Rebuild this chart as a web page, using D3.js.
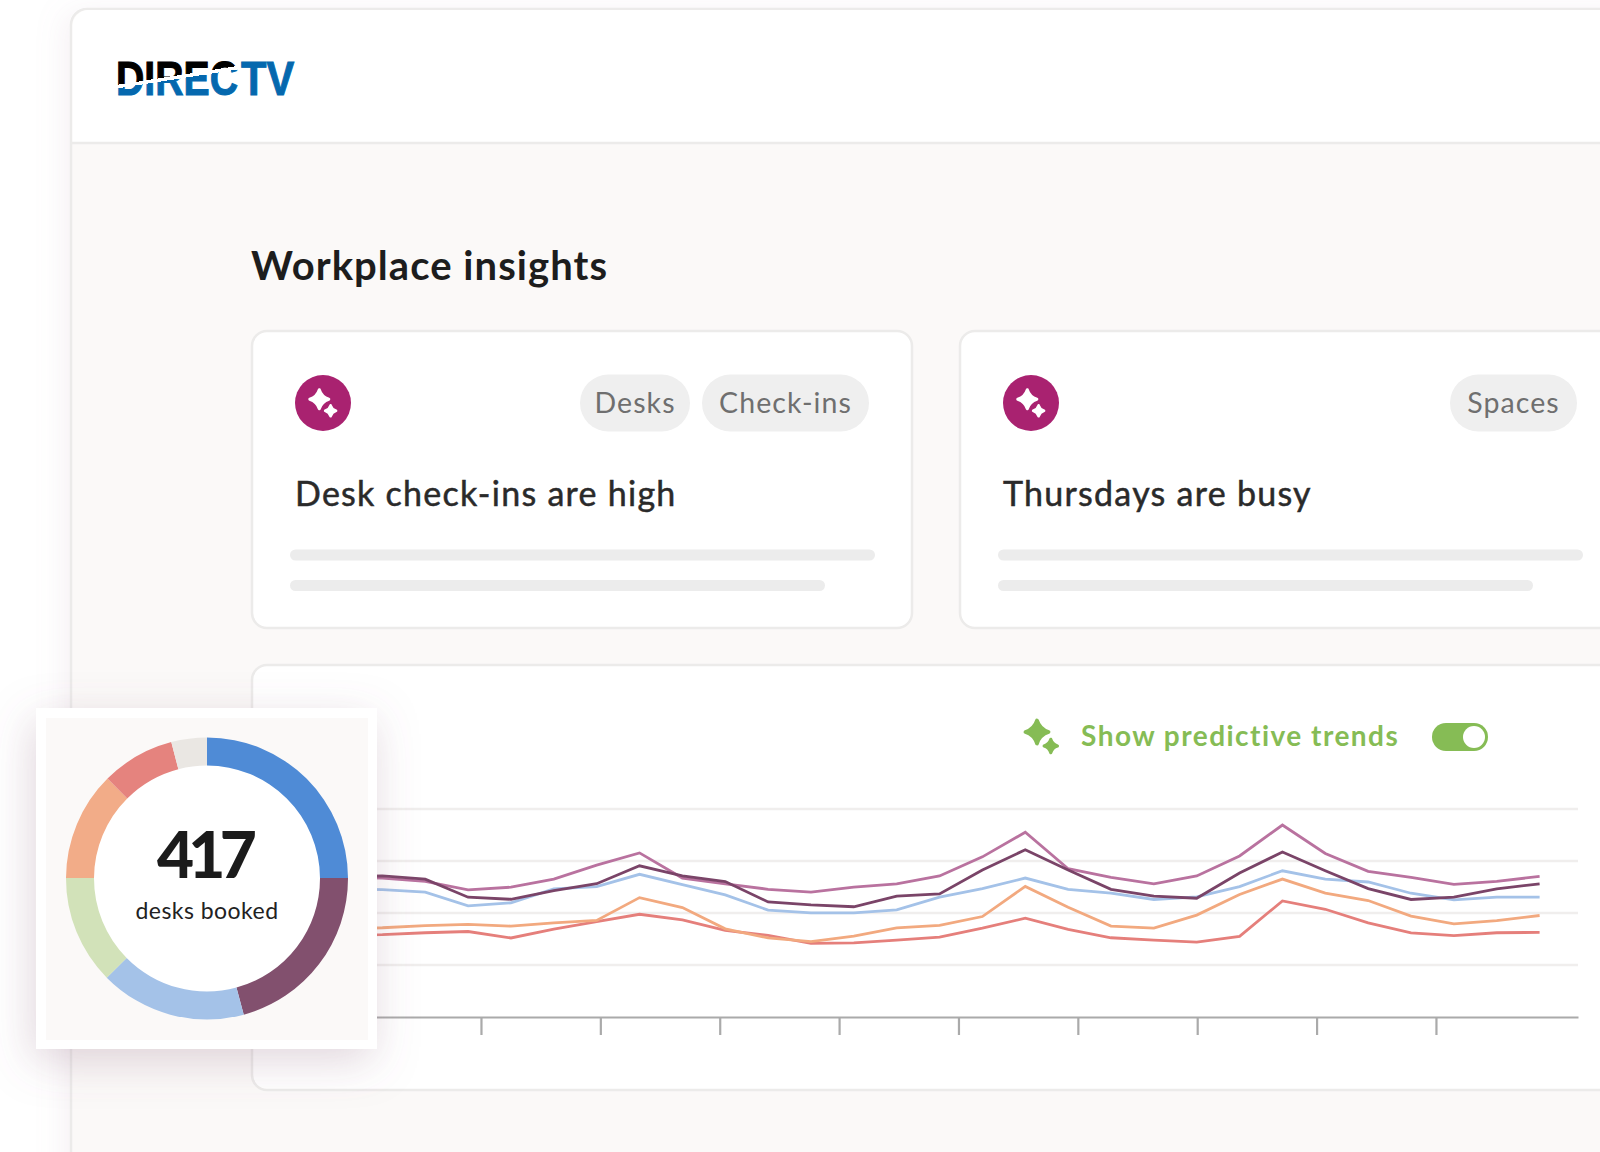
<!DOCTYPE html>
<html>
<head>
<meta charset="utf-8">
<script src="https://cdn.jsdelivr.net/npm/d3@7"></script>
<style>
  html, body { margin: 0; padding: 0; background: #fff; overflow: hidden; }
  text { font-family: Lato, "Noto Sans", sans-serif; }
</style>
</head>
<body>
<svg id="chart" width="1600" height="1152"></svg>
<script>
// first point of each series sits behind the donut card
const dayIndex = d3.range(29)
const mauveValues = [67.1, 66.8, 65.2, 61.1, 62.4, 66.3, 73.0, 78.9, 66.8, 64.0, 61.4, 60.0, 62.4, 64.0, 67.8, 77.0, 88.8, 71.3, 67.1, 64.0, 67.8, 77.4, 92.3, 78.6, 70.0, 67.1, 63.8, 65.2, 67.6]
const plumValues = [67.5, 67.8, 66.3, 57.6, 56.6, 60.8, 64.1, 72.7, 67.8, 65.1, 55.3, 53.9, 53.0, 58.1, 59.2, 70.7, 80.4, 70.7, 61.4, 58.1, 57.1, 69.2, 79.3, 70.3, 61.7, 56.5, 57.6, 61.6, 64.0]
const blueValues = [61.6, 61.2, 60.0, 53.4, 54.9, 61.6, 62.7, 68.6, 63.6, 58.7, 51.4, 50.1, 50.1, 51.5, 57.6, 61.7, 66.8, 61.4, 59.6, 56.5, 57.7, 62.7, 70.3, 66.3, 64.9, 59.5, 56.3, 57.6, 57.6]
const orangeValues = [42.4, 42.9, 43.9, 44.5, 43.7, 45.3, 46.4, 57.4, 52.6, 42.4, 38.0, 36.2, 38.9, 42.9, 44.0, 48.3, 62.8, 52.8, 43.7, 42.7, 49.0, 58.9, 66.3, 59.6, 56.0, 48.5, 44.8, 46.3, 48.8]
const redValues = [39.2, 39.6, 40.5, 41.1, 38.0, 42.3, 45.8, 49.4, 46.7, 41.6, 39.2, 35.4, 35.6, 37.0, 38.4, 42.7, 47.5, 42.1, 38.1, 37.0, 36.0, 38.8, 55.8, 51.8, 45.3, 40.4, 39.1, 40.5, 40.7]

const gridValues = [25, 50, 75, 100]
const axisTicks = [1, 2, 3, 4, 5, 6, 7, 8, 9]

const donutCategories = ["a", "b", "c", "d", "e", "f", "g"]
const donutValues = [104, 87, 70, 52, 52, 35, 17]
const donutColors = ["#4f8bd6", "#82506e", "#a4c2e8", "#d2e2b9", "#f2ac88", "#e5837e", "#eae7e3"]

const svg = d3.select("#chart")
const defs = svg.append("defs")

function shadow(id, dx, dy, blur, color, opacity) {
  defs.append("filter").attr("id", id)
    .attr("x", "-30%").attr("y", "-30%").attr("width", "160%").attr("height", "160%")
    .append("feDropShadow")
    .attr("dx", dx).attr("dy", dy).attr("stdDeviation", blur)
    .attr("flood-color", color).attr("flood-opacity", opacity)
}
shadow("outerShadow", -6, 4, 14, "#b894ac", 0.13)
shadow("floatShadow", -4, 12, 22, "#8a5f7d", 0.26)

// 4 point star, the "insight" icon
function sparkle(cx, cy, r) {
  const k = r * 0.24
  return `M${cx},${cy - r}Q${cx + k},${cy - k} ${cx + r},${cy}Q${cx + k},${cy + k} ${cx},${cy + r}Q${cx - k},${cy + k} ${cx - r},${cy}Q${cx - k},${cy - k} ${cx},${cy - r}Z`
}
function sparklePair(x, y, color, scale) {
  svg.append("path").attr("d", sparkle(x, y, 9.5 * scale))
    .attr("fill", color).attr("stroke", color).attr("stroke-width", 3 * scale).attr("stroke-linejoin", "round")
  svg.append("path").attr("d", sparkle(x + 11.3 * scale, y + 11.5 * scale, 5.5 * scale))
    .attr("fill", color).attr("stroke", color).attr("stroke-width", 2.5 * scale).attr("stroke-linejoin", "round")
}

// app frame
svg.append("rect").attr("x", 71).attr("y", 9).attr("width", 1600).attr("height", 1300).attr("rx", 16)
  .attr("fill", "#fbf9f8").attr("stroke", "#ecebea").attr("stroke-width", 2.5)
  .attr("filter", "url(#outerShadow)")
svg.append("path").attr("d", "M72.5,143V26a16,16 0 0 1 16,-16H1620V143Z").attr("fill", "#fff")
svg.append("line").attr("x1", 72).attr("x2", 1600).attr("y1", 143).attr("y2", 143)
  .attr("stroke", "#ecebea").attr("stroke-width", 2.5)

// logo, hard stop gradient over the first word makes the swoosh
const logoFill = defs.append("linearGradient").attr("id", "logoFill")
  .attr("gradientUnits", "userSpaceOnUse")
  .attr("x1", 0).attr("y1", -15).attr("x2", 1.88).attr("y2", 0)
logoFill.selectAll("stop")
  .data([[0, "#000"], [0.33, "#000"], [0.33, "#fff"], [0.56, "#fff"], [0.56, "#0568ae"], [1, "#0568ae"]])
  .join("stop").attr("offset", d => d[0]).attr("stop-color", d => d[1])
function logoWord(word, x, scaleX, fill) {
  svg.append("text").attr("transform", `translate(${x},95) scale(${scaleX},1)`)
    .attr("font-size", 49).attr("font-weight", 700)
    .attr("fill", fill).attr("stroke", fill).attr("stroke-width", 1)
    .style("font-family", "'Liberation Sans', sans-serif")
    .text(word)
}
logoWord("DIREC", 116, 0.8, "url(#logoFill)")
logoWord("TV", 241, 0.85, "#0568ae")

svg.append("text").attr("x", 251).attr("y", 280).attr("font-size", 40).attr("font-weight", 700)
  .attr("fill", "#1d1d1d").attr("letter-spacing", 1.05).text("Workplace insights")

// insight cards
function insightCard(x, width, title, pills) {
  svg.append("rect").attr("x", x).attr("y", 331).attr("width", width).attr("height", 297).attr("rx", 15)
    .attr("fill", "#fff").attr("stroke", "#ecebea").attr("stroke-width", 2.5)
  svg.append("circle").attr("cx", x + 71).attr("cy", 403).attr("r", 28).attr("fill", "#a92270")
  sparklePair(x + 67.3, 399.3, "#fff", 1)
  pills.forEach(p => {
    svg.append("rect").attr("x", p.x).attr("y", 374.5).attr("width", p.w).attr("height", 57).attr("rx", 28.5)
      .attr("fill", "#efefef")
    svg.append("text").attr("x", p.x + p.w / 2).attr("y", 413).attr("text-anchor", "middle")
      .attr("font-size", 28.5).attr("fill", "#6f6f6f").attr("letter-spacing", 1.1).text(p.label)
  })
  svg.append("text").attr("x", x + 43).attr("y", 506).attr("font-size", 34)
    .attr("fill", "#2a2a2a").attr("stroke", "#2a2a2a").attr("stroke-width", 0.5)
    .attr("letter-spacing", 1.27).text(title)
  svg.append("rect").attr("x", x + 38).attr("y", 549.5).attr("width", 585).attr("height", 11).attr("rx", 5.5).attr("fill", "#ececec")
  svg.append("rect").attr("x", x + 38).attr("y", 580).attr("width", 535).attr("height", 11).attr("rx", 5.5).attr("fill", "#ececec")
}
insightCard(252, 660, "Desk check-ins are high", [
  { x: 580, w: 110, label: "Desks" },
  { x: 702, w: 167, label: "Check-ins" }
])
insightCard(960, 800, "Thursdays are busy", [
  { x: 1450, w: 127, label: "Spaces" }
])

// line chart card
svg.append("rect").attr("x", 252).attr("y", 665).attr("width", 1500).attr("height", 425).attr("rx", 15)
  .attr("fill", "#fff").attr("stroke", "#ecebea").attr("stroke-width", 2.5)

sparklePair(1037, 732, "#86bc55", 1.22)
svg.append("text").attr("x", 1081).attr("y", 746).attr("font-size", 28).attr("font-weight", 700)
  .attr("fill", "#86bc55").attr("letter-spacing", 1.47).text("Show predictive trends")
svg.append("rect").attr("x", 1432).attr("y", 723).attr("width", 56).attr("height", 28).attr("rx", 14).attr("fill", "#86bc55")
svg.append("circle").attr("cx", 1474).attr("cy", 737).attr("r", 11).attr("fill", "#fff")

const x = d3.scaleLinear().domain([0, 28]).range([339.5, 1539.6])
const y = d3.scaleLinear().domain([0, 100]).range([1017, 809])
const xTicks = d3.scaleLinear().domain([0, 10.19]).range([361.6, 1578])

svg.append("g").selectAll("line").data(gridValues).join("line")
  .attr("x1", 360).attr("x2", 1578)
  .attr("y1", d => y(d)).attr("y2", d => y(d))
  .attr("stroke", "#f0eeed").attr("stroke-width", 2.4)

const xAxis = svg.append("g").attr("transform", `translate(0,${y(0)})`)
  .call(d3.axisBottom(xTicks).tickValues(axisTicks).tickFormat("").tickSize(18).tickSizeOuter(0))
xAxis.selectAll("path, line").attr("stroke", "#aaa").attr("stroke-width", 2.2)

const line = d3.line().x((d, i) => x(dayIndex[i])).y(d => y(d))
const chartSeries = [
  { values: blueValues, color: "#a4c2e8" },
  { values: mauveValues, color: "#b9729f" },
  { values: plumValues, color: "#7a4468" },
  { values: redValues, color: "#e57f7b" },
  { values: orangeValues, color: "#f2a97f" }
]
svg.append("g").selectAll("path").data(chartSeries).join("path")
  .attr("d", d => line(d.values))
  .attr("fill", "none").attr("stroke", d => d.color).attr("stroke-width", 2.8)
  .attr("stroke-linejoin", "miter")

// floating donut card
svg.append("rect").attr("x", 36).attr("y", 708).attr("width", 341).attr("height", 341)
  .attr("fill", "#fff").attr("filter", "url(#floatShadow)")
svg.append("rect").attr("x", 46).attr("y", 718).attr("width", 322).attr("height", 322).attr("fill", "#fbf9f8")

const donut = svg.append("g").attr("transform", "translate(207,878.5)")
donut.append("circle").attr("r", 114).attr("fill", "#fff")
const pie = d3.pie().sort(null)
const arc = d3.arc().innerRadius(113).outerRadius(141)
donut.selectAll("path").data(pie(donutValues)).join("path")
  .attr("d", arc)
  .attr("fill", (d, i) => donutColors[i])
  .attr("data-category", (d, i) => donutCategories[i])
donut.append("text").attr("x", -3).attr("y", -1).attr("text-anchor", "middle").attr("font-size", 64).attr("font-weight", 900)
  .attr("fill", "#1b1b1b").attr("letter-spacing", -5.7).text("417")
donut.append("text").attr("y", 40).attr("text-anchor", "middle").attr("font-size", 23)
  .attr("fill", "#222").attr("letter-spacing", 0.45).text("desks booked")
</script>
</body>
</html>
